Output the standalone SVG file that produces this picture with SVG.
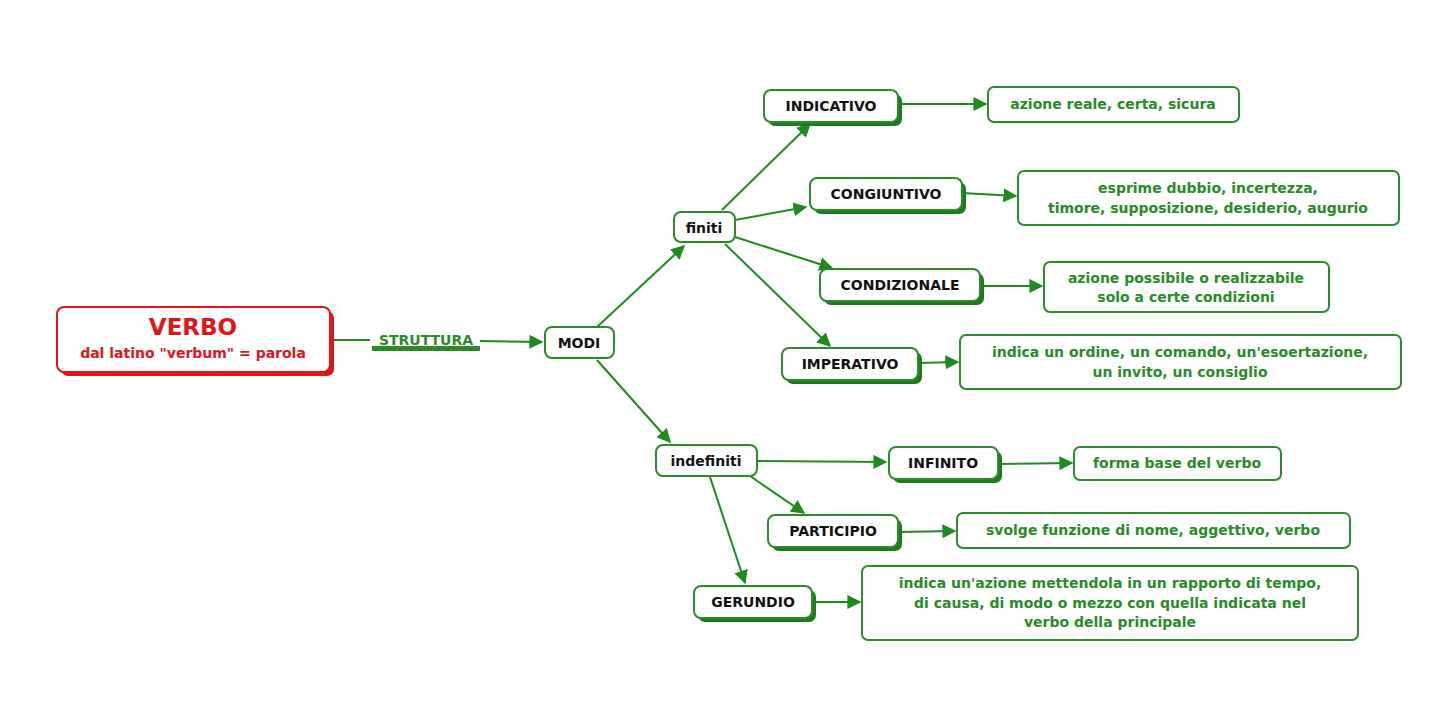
<svg xmlns="http://www.w3.org/2000/svg" width="1445" height="705" viewBox="0 0 1445 705">
<style>
.b{fill:#fff;stroke:#2f8a2f;stroke-width:2}
.s{fill:#1f7a1f}
.t{font-family:"DejaVu Sans",Verdana,sans-serif;font-weight:bold;font-size:14px;text-anchor:middle}
.k{fill:#111}
.g{fill:#2a8a2a}
.c line{stroke:#1f8a1f;stroke-width:2;marker-end:url(#a)}
</style>
<defs><marker id="a" viewBox="0 0 10 10" refX="9" refY="5" markerWidth="7" markerHeight="7" orient="auto" markerUnits="userSpaceOnUse"><path d="M0,0L10,5L0,10z" fill="#1f8a1f"/></marker>
<marker id="a2" viewBox="0 0 10 10" refX="9" refY="5" markerWidth="14" markerHeight="14" orient="auto" markerUnits="userSpaceOnUse"><path d="M0,0L10,5L0,10z" fill="#1f8a1f"/></marker></defs>
<rect width="1445" height="705" fill="#fff"/>
<g class="c">
<line x1="330" y1="340" x2="370" y2="340" style="marker-end:none"/>
<line x1="480" y1="341" x2="542" y2="342" style="marker-end:url(#a2)"/>
<line x1="597" y1="327" x2="684" y2="246" style="marker-end:url(#a2)"/>
<line x1="597" y1="360" x2="670" y2="442" style="marker-end:url(#a2)"/>
<line x1="722" y1="210" x2="810" y2="124" style="marker-end:url(#a2)"/>
<line x1="735" y1="220" x2="806" y2="207" style="marker-end:url(#a2)"/>
<line x1="735" y1="237" x2="832" y2="268" style="marker-end:url(#a2)"/>
<line x1="725" y1="244" x2="830" y2="346" style="marker-end:url(#a2)"/>
<line x1="898" y1="104" x2="986" y2="104" style="marker-end:url(#a2)"/>
<line x1="962" y1="193" x2="1016" y2="196" style="marker-end:url(#a2)"/>
<line x1="980" y1="286" x2="1042" y2="286" style="marker-end:url(#a2)"/>
<line x1="918" y1="363" x2="958" y2="362" style="marker-end:url(#a2)"/>
<line x1="757" y1="461" x2="886" y2="462" style="marker-end:url(#a2)"/>
<line x1="998" y1="464" x2="1072" y2="463" style="marker-end:url(#a2)"/>
<line x1="750" y1="476" x2="804" y2="513" style="marker-end:url(#a2)"/>
<line x1="898" y1="532" x2="955" y2="531" style="marker-end:url(#a2)"/>
<line x1="710" y1="477" x2="745" y2="583" style="marker-end:url(#a2)"/>
<line x1="812" y1="602" x2="860" y2="602" style="marker-end:url(#a2)"/>
</g>
<g id="struttura"><rect x="372" y="346" width="108" height="5" fill="#2a8a2a"/><text x="426" y="345" class="t g" style="text-decoration:underline">STRUTTURA</text></g>
<g id="verbo"><rect x="61" y="311" width="273" height="65" rx="7" fill="#e0141a"/><rect x="57" y="307" width="273" height="65" rx="7" fill="#fff" stroke="#e0141a" stroke-width="2"/><text x="193" y="335" class="t" style="font-size:23px;fill:#e0141a">VERBO</text><text x="193" y="358" class="t" style="fill:#e0141a">dal latino "verbum" = parola</text></g>
<g id="modi"><rect x="545" y="327" width="69" height="31" rx="7" class="b"/><text x="579" y="348" class="t k">MODI</text></g>
<g id="finiti"><rect x="674" y="212" width="61" height="30" rx="7" class="b"/><text x="704" y="233" class="t k">finiti</text></g>
<g id="indefiniti"><rect x="656" y="445" width="101" height="31" rx="7" class="b"/><text x="706" y="466" class="t k">indefiniti</text></g>
<g id="indicativo"><rect x="768" y="94" width="134" height="32" rx="7" class="s"/><rect x="764" y="90" width="134" height="32" rx="7" class="b"/><text x="831" y="111" class="t k">INDICATIVO</text></g>
<g id="congiuntivo"><rect x="814" y="182" width="152" height="32" rx="7" class="s"/><rect x="810" y="178" width="152" height="32" rx="7" class="b"/><text x="886" y="199" class="t k">CONGIUNTIVO</text></g>
<g id="condizionale"><rect x="824" y="273" width="160" height="32" rx="7" class="s"/><rect x="820" y="269" width="160" height="32" rx="7" class="b"/><text x="900" y="290" class="t k">CONDIZIONALE</text></g>
<g id="imperativo"><rect x="786" y="352" width="136" height="32" rx="7" class="s"/><rect x="782" y="348" width="136" height="32" rx="7" class="b"/><text x="850" y="369" class="t k">IMPERATIVO</text></g>
<g id="infinito"><rect x="893" y="451" width="109" height="32" rx="7" class="s"/><rect x="889" y="447" width="109" height="32" rx="7" class="b"/><text x="943" y="468" class="t k">INFINITO</text></g>
<g id="participio"><rect x="772" y="519" width="130" height="32" rx="7" class="s"/><rect x="768" y="515" width="130" height="32" rx="7" class="b"/><text x="833" y="536" class="t k">PARTICIPIO</text></g>
<g id="gerundio"><rect x="698" y="590" width="118" height="32" rx="7" class="s"/><rect x="694" y="586" width="118" height="32" rx="7" class="b"/><text x="753" y="607" class="t k">GERUNDIO</text></g>
<g id="d1"><rect x="988" y="87" width="251" height="35" rx="6" class="b"/><text x="1113" y="109" class="t g">azione reale, certa, sicura</text></g>
<g id="d2"><rect x="1018" y="171" width="381" height="54" rx="6" class="b"/><text x="1208" y="193" class="t g">esprime dubbio, incertezza,</text><text x="1208" y="213" class="t g">timore, supposizione, desiderio, augurio</text></g>
<g id="d3"><rect x="1044" y="262" width="285" height="50" rx="6" class="b"/><text x="1186" y="283" class="t g">azione possibile o realizzabile</text><text x="1186" y="302" class="t g">solo a certe condizioni</text></g>
<g id="d4"><rect x="960" y="335" width="441" height="54" rx="6" class="b"/><text x="1180" y="357" class="t g">indica un ordine, un comando, un'esoertazione,</text><text x="1180" y="377" class="t g">un invito, un consiglio</text></g>
<g id="d5"><rect x="1074" y="447" width="207" height="33" rx="6" class="b"/><text x="1177" y="468" class="t g">forma base del verbo</text></g>
<g id="d6"><rect x="957" y="513" width="393" height="35" rx="6" class="b"/><text x="1153" y="535" class="t g">svolge funzione di nome, aggettivo, verbo</text></g>
<g id="d7"><rect x="862" y="566" width="496" height="74" rx="6" class="b"/><text x="1110" y="588" class="t g">indica un'azione mettendola in un rapporto di tempo,</text><text x="1110" y="608" class="t g">di causa, di modo o mezzo con quella indicata nel</text><text x="1110" y="627" class="t g">verbo della principale</text></g>
</svg>
